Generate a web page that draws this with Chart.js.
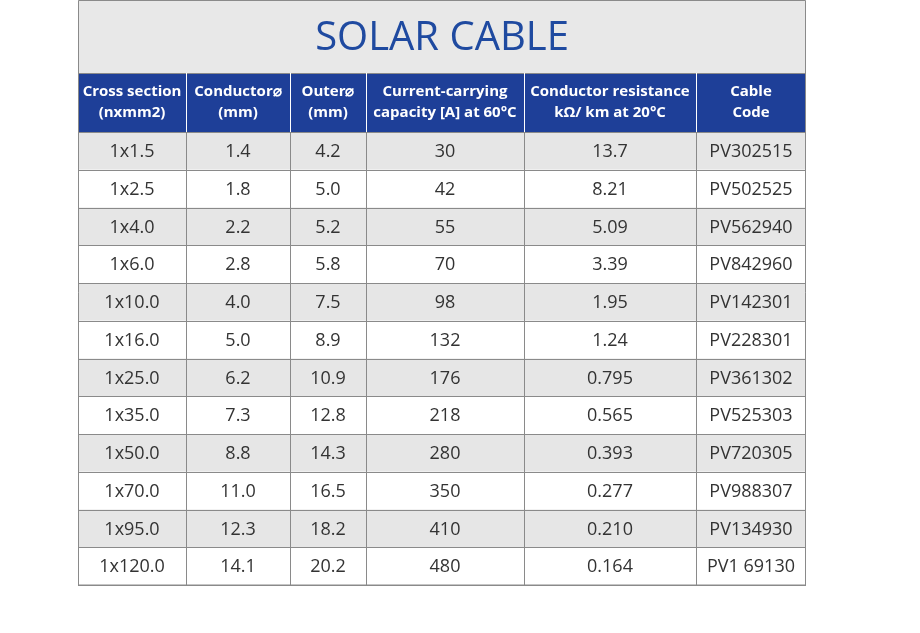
<!DOCTYPE html>
<html><head><meta charset="utf-8">
<script src="https://cdn.jsdelivr.net/npm/chart.js@4/dist/chart.umd.min.js"></script>
<style>html,body{margin:0;padding:0;background:#fff}</style>
</head><body>
<canvas id="c" width="920" height="633"></canvas>
<script>
const title = "SOLAR CABLE";
const headers = [["Cross section","(nxmm2)"],["Conductor⌀","(mm)"],["Outer⌀","(mm)"],["Current-carrying","capacity [A] at 60°C"],["Conductor resistance","kΩ/ km at 20°C"],["Cable","Code"]];
const crossSection = ["1x1.5","1x2.5","1x4.0","1x6.0","1x10.0","1x16.0","1x25.0","1x35.0","1x50.0","1x70.0","1x95.0","1x120.0"];
const conductor = ["1.4","1.8","2.2","2.8","4.0","5.0","6.2","7.3","8.8","11.0","12.3","14.1"];
const outer = ["4.2","5.0","5.2","5.8","7.5","8.9","10.9","12.8","14.3","16.5","18.2","20.2"];
const current = ["30","42","55","70","98","132","176","218","280","350","410","480"];
const resistance = ["13.7","8.21","5.09","3.39","1.95","1.24","0.795","0.565","0.393","0.277","0.210","0.164"];
const cableCode = ["PV302515","PV502525","PV562940","PV842960","PV142301","PV228301","PV361302","PV525303","PV720305","PV988307","PV134930","PV1 69130"];
const columns = [crossSection, conductor, outer, current, resistance, cableCode];
const colWidths = [108,104,76,158,172,110];

const tablePlugin = {
  id:'table',
  afterDraw(chart){
    const ctx = chart.ctx, a = chart.chartArea, y = chart.scales.y;
    const L=a.left, R=a.right;
    const edges=[L]; colWidths.forEach(w=>edges.push(edges[edges.length-1]+w));
    const band = (y.getPixelForValue(1)-y.getPixelForValue(0));
    const headTop=73, headBot=a.top;
    ctx.save();
    // title
    ctx.fillStyle='#e8e8e8'; ctx.fillRect(L,0,R-L,headTop);
    ctx.fillStyle='#1f4aa0'; ctx.font='500 40px "Open Sans", Roboto, sans-serif';
    ctx.textAlign='center'; ctx.textBaseline='middle';
    ctx.fillText(title,(L+R)/2,39);
    // header
    ctx.fillStyle='#1e3f98'; ctx.fillRect(L,headTop,R-L,headBot-headTop);
    ctx.fillStyle='#fff'; ctx.font='bold 15px "Open Sans", Roboto, sans-serif';
    headers.forEach((h,i)=>{const cx=(edges[i]+edges[i+1])/2;
      ctx.fillText(h[0],cx,92); ctx.fillText(h[1],cx,113);});
    // rows
    crossSection.forEach((r,ri)=>{
      const cy=y.getPixelForValue(ri), t=cy-band/2;
      ctx.fillStyle= ri%2===0?'#e6e6e6':'#ffffff';
      ctx.fillRect(L,t,R-L,band);
      ctx.fillStyle='#333'; ctx.font='18px "Open Sans", Roboto, sans-serif';
      columns.forEach((col,ci)=>ctx.fillText(col[ri],(edges[ci]+edges[ci+1])/2,cy+1));
    });
    // grid lines
    ctx.strokeStyle='#8a8a8a'; ctx.lineWidth=1;
    ctx.beginPath();
    ctx.rect(L+0.5,0.5,R-L-1,a.bottom-0.5);
    ctx.moveTo(L,headTop+0.5);ctx.lineTo(R,headTop+0.5);
    for(let i=0;i<=crossSection.length;i++){const yy=Math.round(a.top+i*band)+0.5;ctx.moveTo(L,yy);ctx.lineTo(R,yy);}
    edges.slice(1,-1).forEach(e=>{ctx.moveTo(e+0.5,headTop);ctx.lineTo(e+0.5,a.bottom);});
    ctx.stroke();
    ctx.strokeStyle='#ffffff';ctx.beginPath();
    edges.slice(1,-1).forEach(e=>{ctx.moveTo(e+0.5,headTop);ctx.lineTo(e+0.5,headBot);});
    ctx.stroke();
    ctx.restore();
  }
};
new Chart(document.getElementById('c'),{
  type:'bar',
  data:{labels:crossSection,datasets:[{data:current.map(Number),backgroundColor:'rgba(0,0,0,0)'}]},
  options:{indexAxis:'y',responsive:false,animation:false,
    layout:{padding:{left:78,right:114,top:132,bottom:48}},
    plugins:{legend:{display:false},tooltip:{enabled:false}},
    scales:{x:{display:false},y:{display:false}}},
  plugins:[tablePlugin]
});
</script></body></html>
